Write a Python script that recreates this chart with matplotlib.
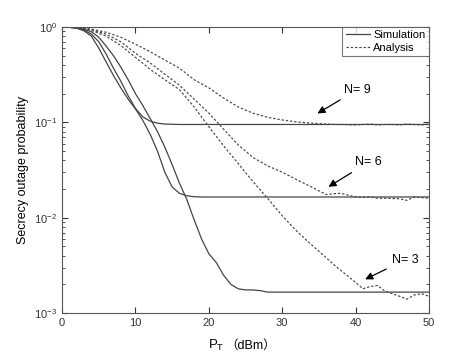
import numpy as np
import matplotlib.pyplot as plt
from matplotlib.offsetbox import TextArea, HPacker, AnnotationBbox

# Potencia transmitida (dBm) y curvas
x_sim9 = [0, 1, 2, 3, 4, 5, 6, 7, 8, 9, 10, 11, 12, 13, 14, 16, 20, 30, 40, 50]
y_sim9 = [1, 0.995, 0.975, 0.93, 0.84, 0.70, 0.52, 0.37, 0.27, 0.19, 0.14, 0.114, 0.103,
          0.098, 0.096, 0.095, 0.095, 0.095, 0.095, 0.095]

x_sim6 = [0, 1, 2, 3, 4, 5, 6, 7, 8, 9, 10, 11, 12, 13, 14, 15, 16, 17, 18, 19, 30, 40, 50]
y_sim6 = [1, 0.99, 0.97, 0.91, 0.80, 0.60, 0.43, 0.31, 0.23, 0.175, 0.138, 0.105, 0.075,
          0.05, 0.03, 0.021, 0.018, 0.017, 0.0166, 0.0165, 0.0165, 0.0165, 0.0165]

x_sim3 = [0, 1, 2, 3, 4, 5, 6, 7, 8, 9, 10, 11, 12, 13, 14, 15, 16, 17, 18, 19, 20, 21,
          22, 23, 24, 25, 26, 27, 28, 40, 50]
y_sim3 = [1, 0.995, 0.98, 0.95, 0.89, 0.78, 0.63, 0.50, 0.38, 0.28, 0.20, 0.15, 0.11,
          0.08, 0.055, 0.036, 0.023, 0.0155, 0.0095, 0.006, 0.0042, 0.0034, 0.0025,
          0.002, 0.0018, 0.00175, 0.00175, 0.00172, 0.00166, 0.00166, 0.00166]

x_ana = [0, 2, 4, 6, 8, 10, 12, 14, 16, 18, 20, 22, 24, 26, 28, 30, 32, 34, 36, 37.5,
         38, 40, 41, 42, 43, 44, 45, 46, 47, 48, 49, 50]
y_ana9 = [1, 0.99, 0.95, 0.88, 0.78, 0.66, 0.55, 0.45, 0.37, 0.28, 0.23, 0.18, 0.145,
          0.125, 0.113, 0.106, 0.101, 0.098, 0.096, 0.095, 0.095, 0.094, 0.095, 0.096,
          0.094, 0.095, 0.095, 0.094, 0.096, 0.095, 0.094, 0.096]
y_ana6 = [1, 0.99, 0.94, 0.84, 0.70, 0.53, 0.42, 0.32, 0.245, 0.175, 0.125, 0.085,
          0.058, 0.043, 0.035, 0.030, 0.025, 0.021, 0.0175, 0.018, 0.018, 0.0165,
          0.0163, 0.0165, 0.016, 0.016, 0.0159, 0.0158, 0.0152, 0.0165, 0.0163, 0.016]
y_ana3 = [1, 0.98, 0.92, 0.80, 0.64, 0.48, 0.36, 0.28, 0.22, 0.145, 0.09, 0.057,
          0.037, 0.024, 0.016, 0.0105, 0.0072, 0.0052, 0.0038, 0.003, 0.0028, 0.0021,
          0.0018, 0.0019, 0.00195, 0.0017, 0.0016, 0.0015, 0.0014, 0.00155, 0.0016, 0.0015]

etiquetas = ["N= 9", "N= 6", "N= 3"]

plt.rcParams['font.family'] = ['Liberation Sans', 'Noto Sans CJK SC']
plt.rcParams['font.size'] = 8

fig = plt.figure(figsize=(4.74, 3.55), dpi=100)
ax = fig.add_axes([0.131, 0.118, 0.774, 0.806])

c_linea = '#454545'
ax.semilogy(x_sim9, y_sim9, '-', color=c_linea, lw=0.9, label='Simulation')
ax.semilogy(x_sim6, y_sim6, '-', color=c_linea, lw=0.9)
ax.semilogy(x_sim3, y_sim3, '-', color=c_linea, lw=0.9)
ax.semilogy(x_ana, y_ana9, color=c_linea, lw=0.85, ls=(0, (2, 1.6)), label='Analysis')
ax.semilogy(x_ana, y_ana6, color=c_linea, lw=0.85, ls=(0, (2, 1.6)))
ax.semilogy(x_ana, y_ana3, color=c_linea, lw=0.85, ls=(0, (2, 1.6)))

ax.set_xlim(0, 50)
ax.set_ylim(1e-3, 1)
ax.set_xticks([0, 10, 20, 30, 40, 50])
ax.tick_params(which='both', direction='in', top=True, right=True, colors='#333333')
ax.tick_params(which='major', length=4)
ax.tick_params(which='minor', length=2)
for s in ax.spines.values():
    s.set_color('#555555')
    s.set_linewidth(0.8)

ax.set_ylabel('Secrecy outage probability', fontsize=9, labelpad=4)

# Etiqueta del eje x con subindice y parentesis de ancho completo
t1 = TextArea(r'$\mathregular{P_T}$', textprops=dict(fontsize=9.5, family='Liberation Sans'))
t2 = TextArea('（dBm）', textprops=dict(fontsize=9, family=['Liberation Sans', 'Noto Sans CJK SC']))
caja = HPacker(children=[t1, t2], align='baseline', pad=0, sep=1)
ab = AnnotationBbox(caja, (0.49, -0.085), xycoords='axes fraction', frameon=False,
                    box_alignment=(0.5, 1.0))
ax.add_artist(ab)

leg = ax.legend(loc='upper right', fontsize=8, frameon=True, fancybox=False,
                edgecolor='#555555', borderpad=0.3, handlelength=2.2,
                handletextpad=0.3, labelspacing=0.2, borderaxespad=0.0)
leg.get_frame().set_linewidth(0.8)

# Flechas con las etiquetas de N
ax.annotate(etiquetas[0], xy=(34.8, 0.124), xytext=(38.4, 0.22), fontsize=9,
            va='center', arrowprops=dict(arrowstyle='-|>', color='k', lw=0.9,
                                         mutation_scale=11, shrinkA=2, shrinkB=0))
ax.annotate(etiquetas[1], xy=(36.3, 0.0211), xytext=(39.9, 0.038), fontsize=9,
            va='center', arrowprops=dict(arrowstyle='-|>', color='k', lw=0.9,
                                         mutation_scale=11, shrinkA=2, shrinkB=0))
ax.annotate(etiquetas[2], xy=(41.3, 0.00226), xytext=(44.9, 0.0036), fontsize=9,
            va='center', arrowprops=dict(arrowstyle='-|>', color='k', lw=0.9,
                                         mutation_scale=11, shrinkA=2, shrinkB=0))

fig.savefig('out.png', dpi=100)
